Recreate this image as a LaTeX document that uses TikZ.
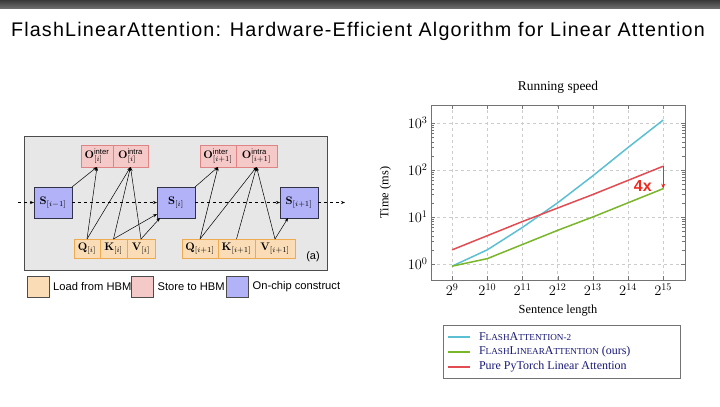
\RequirePackage{fix-cm}
\documentclass[tikz,border=0pt]{standalone}
\usepackage{amsmath}
\usepackage[no-math]{fontspec}
\setmainfont{Liberation Sans}
\newfontfamily\titlefont[LetterSpace=6]{Liberation Sans}
\newfontfamily\chartfont{Liberation Serif}
\usepackage{tikz}
\usetikzlibrary{positioning}
\usetikzlibrary{calc}
\usetikzlibrary{arrows.meta}
\usepackage{pgfplots}
\pgfplotsset{compat=1.7}

\definecolor{hbmload}{RGB}{250,221,182}
\definecolor{hbmloadline}{RGB}{238,170,80}
\definecolor{hbmstore}{RGB}{246,201,201}
\definecolor{hbmstoreline}{RGB}{222,132,132}
\definecolor{onchip}{RGB}{178,178,248}
\definecolor{onchipline}{RGB}{50,50,70}
\definecolor{framegray}{RGB}{231,231,231}
\definecolor{flashcyan}{RGB}{92,192,212}
\definecolor{lineargreen}{RGB}{122,182,42}
\definecolor{torchred}{RGB}{226,76,82}
\definecolor{legendnavy}{RGB}{25,25,120}
\definecolor{fourxred}{RGB}{238,42,32}

\newcommand{\tinycaps}[1]{{\fontsize{9.2}{11}\selectfont #1}}

\tikzset{
  diag/.style={font=\fontsize{11}{13}\selectfont, inner sep=0pt, outer sep=0pt, line width=0.8bp},
  loadbox/.style={diag, draw=hbmloadline, fill=hbmload, minimum height=19bp},
  storebox/.style={diag, draw=hbmstoreline, fill=hbmstore, minimum height=22bp},
  chipbox/.style={diag, draw=onchipline, fill=onchip, minimum width=38bp, minimum height=31bp},
  keybox/.style={diag, draw=black!70, minimum width=22bp, minimum height=21bp},
  keytext/.style={font=\fontsize{11.2}{13}\selectfont, inner sep=0pt, anchor=west},
  flow/.style={-{Stealth[length=4bp,width=3bp]}, line width=0.5bp},
  carry/.style={flow, dashed},
  legtext/.style={right=5bp, text=legendnavy, font=\chartfont\fontsize{12}{14}\selectfont},
}

\begin{document}
\begin{tikzpicture}[x=1bp, y=-1bp]
  \useasboundingbox (0,0) rectangle (720,406);
  \fill[white] (0,0) rectangle (720,406);
  \shade[top color=black!78, bottom color=black!58] (0,0) rectangle (720,8);
  \node[font=\titlefont\fontsize{19.8}{22}\selectfont] (title) at (358,31)
    {FlashLinearAttention: Hardware-Efficient Algorithm for Linear Attention};

  % chunkwise diagram
  \draw[fill=framegray, draw=black!70, line width=0.8bp] (24,136) rectangle (327,270);
  \node[chipbox] (s-prev) at (53,202.5) {$\mathbf{S}_{[i-1]}$};
  \node[chipbox] (s-i) at (176,202.5) {$\mathbf{S}_{[i]}$};
  \node[chipbox] (s-next) at (299,202.5) {$\mathbf{S}_{[i+1]}$};

  \node[storebox, minimum width=32bp] (o-inter-i) at (97,156) {$\mathbf{O}^{\text{inter}}_{[i]}$};
  \node[storebox, minimum width=35bp, right=0pt of o-inter-i] (o-intra-i) {$\mathbf{O}^{\text{intra}}_{[i]}$};
  \node[storebox, minimum width=36bp] (o-inter-next) at (218,156) {$\mathbf{O}^{\text{inter}}_{[i+1]}$};
  \node[storebox, minimum width=41bp, right=0pt of o-inter-next] (o-intra-next) {$\mathbf{O}^{\text{intra}}_{[i+1]}$};

  \node[loadbox, minimum width=26bp] (q-i) at (87,248.5) {$\mathbf{Q}_{[i]}$};
  \node[loadbox, minimum width=27bp, right=0pt of q-i] (k-i) {$\mathbf{K}_{[i]}$};
  \node[loadbox, minimum width=28bp, right=0pt of k-i] (v-i) {$\mathbf{V}_{[i]}$};
  \node[loadbox, minimum width=36bp] (q-next) at (200,248.5) {$\mathbf{Q}_{[i+1]}$};
  \node[loadbox, minimum width=37bp, right=0pt of q-next] (k-next) {$\mathbf{K}_{[i+1]}$};
  \node[loadbox, minimum width=40bp, right=0pt of k-next] (v-next) {$\mathbf{V}_{[i+1]}$};

  \node[font=\fontsize{11}{13}\selectfont] (tag) at (313,257) {(a)};

  % recurrent state
  \coordinate (carry-in) at (18,202.5);
  \coordinate (carry-out) at (345,202.5);
  \draw[carry] (carry-in) -- (s-prev.west);
  \draw[carry] (s-prev.east) -- (s-i.west);
  \draw[carry] (s-i.east) -- (s-next.west);
  \draw[carry] (s-next.east) -- (carry-out);

  \draw[flow] (s-prev.north east) -- (o-inter-i.south);
  \draw[flow] (q-i.north) -- (o-inter-i.south);
  \draw[flow] (q-i.north) -- (o-intra-i.south);
  \draw[flow] (k-i.north) -- (o-intra-i.south);
  \draw[flow] (v-i.north) -- (o-intra-i.south);
  \draw[flow] (k-i.north) -- ([yshift=4bp]s-i.south west);
  \draw[flow] (v-i.north) -- ([xshift=3bp]s-i.south west);

  \draw[flow] (s-i.north east) -- (o-inter-next.south);
  \draw[flow] (q-next.north) -- (o-inter-next.south);
  \draw[flow] (q-next.north) -- (o-intra-next.south);
  \draw[flow] (k-next.north) -- (o-intra-next.south);
  \draw[flow] (v-next.north) -- (o-intra-next.south);
  \draw[flow] (v-next.north) -- ([xshift=8bp]s-next.south west);

  % key
  \node[keybox, fill=hbmload] (key-load) at (38,286.5) {};
  \node[keytext, right=4bp of key-load] (key-load-txt) {Load from HBM};
  \node[keybox, fill=hbmstore] (key-store) at (142.5,286.5) {};
  \node[keytext, right=4bp of key-store] (key-store-txt) {Store to HBM};
  \node[keybox, fill=onchip] (key-chip) at (237.5,286.5) {};
  \node[keytext, right=4bp of key-chip] (key-chip-txt) {On-chip construct};

  % running speed
  \coordinate (chart-origin) at (431,280);
  \begin{axis}[
      at={(chart-origin)}, anchor=south west,
      width=254bp, height=175bp, scale only axis,
      xmode=log, log basis x=2, ymode=log,
      xmin=338, xmax=50360, ymin=0.457, ymax=2400,
      xtick={512,1024,2048,4096,8192,16384,32768},
      ytick={1,10,100,1000},
      grid=major, major grid style={dashed, black!20},
      axis line style={black!55}, tick style={black!55},
      tick label style={font=\fontsize{14.5}{16}\selectfont},
      title={Running speed}, title style={font=\chartfont\fontsize{13.5}{16}\selectfont, yshift=2bp},
      xlabel={Sentence length}, xlabel style={font=\chartfont\fontsize{12.4}{14}\selectfont},
      ylabel={Time (ms)}, ylabel style={font=\chartfont\fontsize{12.4}{14}\selectfont},
      xlabel shift=3bp, ylabel shift=10bp,
    ]
    \addplot[flashcyan, line width=1.5bp] coordinates
      {(512,0.9) (1024,2) (2048,6) (4096,20) (8192,75) (16384,300) (32768,1150)};
    \addplot[lineargreen, line width=1.5bp] coordinates
      {(512,0.9) (1024,1.3) (2048,2.6) (4096,5.2) (8192,10) (16384,20) (32768,40)};
    \addplot[torchred, line width=1.5bp] coordinates
      {(512,2) (1024,4) (2048,8) (4096,15.5) (8192,30) (16384,60) (32768,120)};
    \coordinate (gap-top) at (axis cs:32768,120);
    \coordinate (gap-bottom) at (axis cs:32768,40);
  \end{axis}
  \draw[fourxred, line width=1bp, -{Stealth[length=5bp,width=4bp]}] (gap-top) -- (gap-bottom);
  \node[fourxred, font=\bfseries\fontsize{16}{18}\selectfont, left=8bp] (speedup) at ($(gap-top)!0.9!(gap-bottom)$) {4x};

  % chart legend
  \draw[black!55, line width=0.6bp] (443,325) rectangle (680,378);
  \coordinate (leg-flash) at (448,337);
  \coordinate (leg-linear) at (448,352);
  \coordinate (leg-torch) at (448,367);
  \draw[flashcyan, line width=1.5bp] (leg-flash) -- ++(22,0)
    node[legtext] (leg-flash-txt) {F\tinycaps{LASH}A\tinycaps{TTENTION-2}};
  \draw[lineargreen, line width=1.5bp] (leg-linear) -- ++(22,0)
    node[legtext] (leg-linear-txt) {F\tinycaps{LASH}L\tinycaps{INEAR}A\tinycaps{TTENTION} (ours)};
  \draw[torchred, line width=1.5bp] (leg-torch) -- ++(22,0)
    node[legtext] (leg-torch-txt) {Pure PyTorch Linear Attention};
\end{tikzpicture}
\end{document}
